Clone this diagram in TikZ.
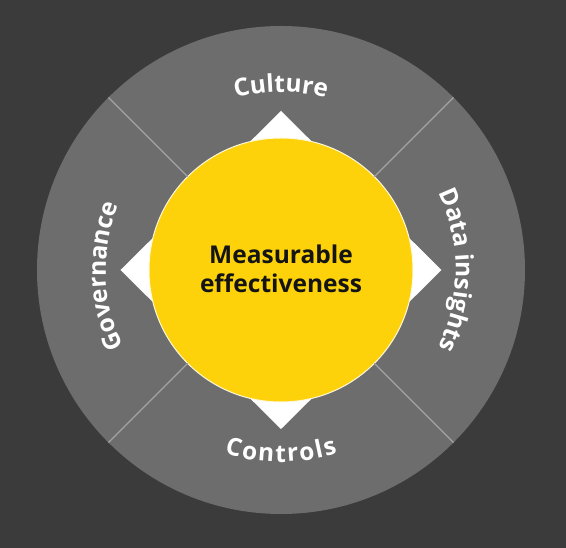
\documentclass[tikz,border=0pt]{standalone}
\usepackage{fontspec}
\setsansfont{Open Sans}
\usetikzlibrary{shapes.geometric,decorations.text}
\definecolor{bgdark}{HTML}{3B3B3B}
\definecolor{ringgrey}{HTML}{6E6D6E}
\definecolor{divgrey}{HTML}{A3A3A3}
\definecolor{eyyellow}{HTML}{FDD20A}
\newcommand{\lblfont}{\fontsize{24.5}{29}\selectfont\sffamily\bfseries}
\tikzset{
  ringshape/.style={circle, fill=ringgrey, minimum size=488pt, inner sep=0pt, outer sep=0pt},
  coreshape/.style={circle, fill=eyyellow, draw=white!85!eyyellow, line width=1pt, minimum size=264pt, inner sep=0pt, outer sep=0pt},
  diamondshape/.style={diamond, fill=white, minimum width=321pt, minimum height=318pt, inner sep=0pt, outer sep=0pt, aspect=1},
  divider/.style={draw=divgrey, line width=1.1pt},
  arclabel/.style={decorate, decoration={text along path, text align=center, text={|\lblfont\color{white}|#1}}},
  centertext/.style={align=center, font=\fontsize{24.5}{29}\selectfont\sffamily\bfseries, text=black!92}
}
\begin{document}
\begin{tikzpicture}[x=1pt,y=1pt]
  \fill[bgdark] (-281,-278) rectangle (285,270);
  \useasboundingbox (-281,-278) rectangle (285,270);
  \node[ringshape] (ring) at (0,0) {};
  \node[diamondshape] (diam) at (0,0) {};
  \node[coreshape] (core) at (0,0) {};
  \draw[divider] (core.45) -- (ring.45);
  \draw[divider] (core.135) -- (ring.135);
  \draw[divider] (core.225) -- (ring.225);
  \draw[divider] (core.315) -- (ring.315);
  \node[centertext] (mid) at (0,1) {Measurable\\effectiveness};
  \path[arclabel={Culture}] (130:178) arc[start angle=130, end angle=50, radius=178];
  \path[arclabel={Data insights}] (45:175) arc[start angle=45, end angle=-45, radius=175];
  \path[arclabel={{C\kern1.6pt}{o\kern1.6pt}{n\kern1.6pt}{t\kern1.6pt}{r\kern1.6pt}{o\kern1.6pt}{l\kern1.6pt}s}] (230:192) arc[start angle=230, end angle=310, radius=192];
  \path[arclabel={Governance}] (227:175) arc[start angle=227, end angle=137, radius=175];
\end{tikzpicture}
\end{document}
